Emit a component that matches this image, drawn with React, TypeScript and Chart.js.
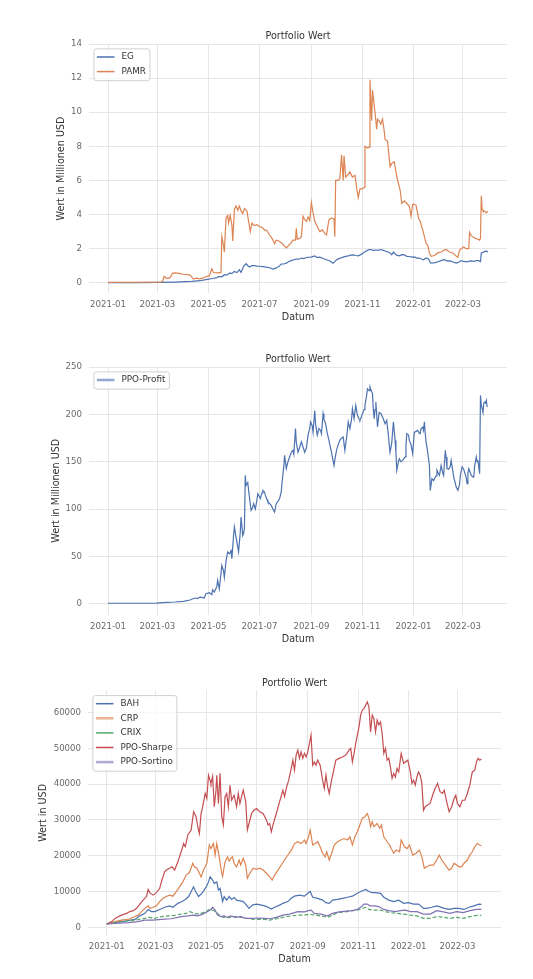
import React, { useEffect, useRef } from "react";
import { Chart, registerables } from "chart.js";
Chart.register(...registerables);

// ---------- shared axis data ----------
// x values are days since 2021-01-01
const TICK_DAYS = [0, 59, 120, 181, 243, 304, 365, 424];
const TICK_LABELS = ["2021-01", "2021-03", "2021-05", "2021-07", "2021-09", "2021-11", "2022-01", "2022-03"];
const X_MIN = -22.7;
const X_MAX = 476.7;

const TITLE = "Portfolio Wert";
const X_TITLE = "Datum";

// ---------- chart 1: EG / PAMR (Mio. USD) ----------
const Y1_TICKS = [0, 2, 4, 6, 8, 10, 12, 14];
const EG: number[][] = [
  [0,0.01],[30,0.01],[63,0.02],[80,0.04],[100,0.08],[110,0.12],[117,0.18],[125,0.25],[130,0.3],[133,0.37],
  [136,0.35],[139,0.47],[142,0.45],[145,0.57],[148,0.55],[151,0.66],[154,0.6],[157,0.76],[159,0.6],[162,0.96],
  [165,1.12],[167,1.0],[169,0.92],[172,1.0],[175,1.0],[178,0.98],[181,0.97],[185,0.95],[189,0.92],[193,0.88],
  [197,0.8],[201,0.87],[204,0.95],[207,1.1],[210,1.1],[213,1.15],[216,1.25],[219,1.3],[222,1.35],[225,1.39],
  [228,1.38],[231,1.45],[234,1.42],[237,1.48],[241,1.5],[244,1.52],[247,1.58],[250,1.48],[253,1.5],[257,1.42],
  [261,1.35],[265,1.28],[269,1.15],[272,1.3],[275,1.4],[278,1.45],[281,1.5],[284,1.55],[287,1.58],[290,1.62],
  [293,1.64],[296,1.6],[299,1.58],[302,1.65],[305,1.74],[308,1.85],[311,1.93],[314,1.95],[317,1.9],[320,1.92],
  [323,1.9],[326,1.95],[329,1.9],[332,1.85],[335,1.8],[337,1.75],[339,1.64],[341,1.8],[343,1.7],[345,1.62],
  [348,1.58],[351,1.65],[354,1.64],[357,1.55],[360,1.54],[363,1.5],[366,1.52],[369,1.45],[372,1.45],[375,1.38],
  [377,1.35],[380,1.45],[383,1.4],[385,1.2],[386,1.15],[389,1.17],[392,1.2],[395,1.25],[398,1.3],[401,1.35],
  [403,1.33],[406,1.27],[409,1.28],[412,1.22],[416,1.15],[419,1.2],[422,1.3],[425,1.25],[428,1.22],[431,1.25],
  [434,1.28],[437,1.25],[440,1.3],[443,1.3],[445,1.25],[446,1.75],[448,1.78],[450,1.84],[452,1.85],[454,1.8]
];
const PAMR: number[][] = [
  [0,0.02],[20,0.03],[40,0.03],[63,0.04],[65,0.06],[67,0.38],[70,0.25],[74,0.3],[77,0.55],[80,0.58],
  [85,0.55],[90,0.5],[95,0.48],[98,0.45],[100,0.35],[102,0.22],[105,0.27],[110,0.23],[115,0.3],[118,0.38],
  [121,0.4],[124,0.82],[126,0.6],[130,0.58],[134,0.6],[135,0.62],[136,2.7],[138,2.2],[139,1.8],[141,3.8],
  [143,3.95],[144,3.5],[146,3.95],[148,3.4],[149,2.45],[151,4.3],[153,4.5],[155,4.25],[157,4.5],[159,4.2],
  [161,4.05],[163,4.35],[166,4.2],[168,3.6],[170,3.0],[172,3.5],[175,3.35],[178,3.4],[181,3.3],[184,3.25],
  [187,3.1],[190,3.05],[193,2.8],[196,2.6],[199,2.3],[201,2.5],[204,2.45],[207,2.35],[210,2.2],[213,2.05],
  [216,2.2],[219,2.35],[221,2.5],[224,2.5],[225,3.2],[226,2.55],[229,2.6],[231,2.7],[233,3.9],[235,3.7],
  [237,3.6],[239,3.85],[241,3.65],[243,4.7],[245,4.1],[247,3.6],[250,3.3],[253,3.0],[256,3.1],[259,2.9],
  [261,2.8],[264,3.7],[267,3.8],[270,3.75],[271,2.7],[272,6.0],[275,6.0],[277,6.1],[279,7.5],[281,6.0],
  [282,7.45],[284,6.2],[286,6.3],[289,6.5],[292,6.2],[295,6.3],[297,5.6],[299,5.0],[301,5.5],[304,5.5],
  [306,5.6],[307,8.0],[310,7.9],[312,7.95],[313,11.9],[315,9.5],[316,11.3],[318,10.4],[319,10.0],[321,9.0],
  [322,9.6],[324,9.5],[326,9.3],[328,9.6],[330,8.9],[331,8.4],[334,8.3],[337,6.8],[339,7.0],[342,7.1],
  [344,6.5],[346,6.0],[349,5.45],[351,4.65],[354,4.8],[357,4.65],[360,4.5],[362,3.9],[364,4.6],[366,4.6],
  [368,4.55],[371,3.8],[373,3.6],[376,3.1],[378,2.7],[380,2.3],[382,2.2],[384,1.75],[386,1.55],[390,1.6],
  [394,1.75],[398,1.8],[401,1.9],[404,1.95],[408,1.8],[412,1.75],[415,1.6],[418,1.5],[420,1.9],[422,2.0],
  [425,2.1],[428,2.0],[431,2.0],[432,2.95],[434,2.75],[436,2.7],[439,2.6],[442,2.55],[444,2.5],[445,2.6],
  [446,5.1],[447,4.3],[448,4.2],[450,4.2],[452,4.1],[454,4.2]
];

// ---------- chart 2: PPO-Profit (Mio. USD) ----------
const Y2_TICKS = [0, 50, 100, 150, 200, 250];
const PPO_PROFIT: number[][] = [
  [0,0.5],[30,0.5],[58,0.6],[70,1.4],[80,1.8],[90,2.5],[98,3.9],[104,6],[107,5.5],[110,7],
  [113,6.5],[115,6],[117,10.6],[121,11.6],[124,9.5],[125,14.8],[127,12.3],[130,18],[131,24.6],[133,15.8],
  [136,40.5],[138,35],[139,28],[141,45],[143,54.6],[145,52.8],[147,56],[148,47.5],[150,72],[151,81],
  [153,70],[155,60],[156,55],[158,75],[159,91.5],[161,72],[162,74],[163,80],[164,135.6],[165,125],
  [167,128],[168,119.7],[170,105],[171,98.6],[173,102],[174,105.6],[176,100],[178,110],[179,116],[181,113],
  [182,111],[184,117],[185,119.7],[187,118],[188,114.4],[190,110],[191,107.4],[193,106],[195,104],[197,100],
  [199,96.8],[201,105.6],[203,108],[205,111],[207,118],[208,128.5],[210,145],[211,156.7],[213,142.6],[215,150],
  [217,155],[219,160],[221,162],[222,158],[224,185],[225,170],[227,160],[229,165],[231,171],[233,165.5],
  [235,160],[237,164.4],[239,178],[241,185],[242,192],[244,188],[245,181],[247,204],[248,190],[250,178],
  [252,185],[254,183],[255,179.6],[257,200.7],[258,195],[260,190],[262,180],[264,172.5],[265,168],[267,160],
  [268,155],[270,146],[271,152],[273,162],[275,168],[277,172.5],[279,175],[281,176],[283,162],[285,175],
  [287,192],[289,185],[291,195],[292,206],[294,195.4],[296,209.5],[298,199],[300,195],[301,193.7],[303,198],
  [304,200.7],[306,205],[307,209.5],[309,220],[310,227],[312,225],[313,228.9],[315,224],[316,221.8],[317,205],
  [318,195.4],[319,205],[320,213],[321,200],[322,186.6],[323,195],[324,202],[326,201],[327,199],[329,195],
  [331,190],[333,193.7],[335,178],[336,168],[337,160],[339,170],[341,192],[343,172.5],[344,160],[345,141],
  [347,150],[348,153],[350,150],[352,151.4],[355,155],[356,168],[357,179.6],[359,178],[360,172.5],[362,168],
  [364,158.5],[365,170],[366,181],[368,182],[370,183],[372,180],[373,179.6],[374,185],[376,186.6],[377,183],
  [378,192],[379,180],[380,171],[382,160],[384,146],[385,119.7],[387,132],[389,130],[390,132],[392,135],
  [393,141],[395,137],[396,135.6],[398,146],[400,138],[401,135.6],[403,162],[404,155],[405,142.6],[407,142],
  [409,145],[410,151.4],[412,140],[413,133.8],[415,127],[416,123.2],[418,119.7],[420,126],[421,135.6],[422,140],
  [423,144.4],[425,142],[426,139],[428,133],[429,126.8],[430,138],[431,142.6],[433,138],[434,135.6],[436,134],
  [437,133.8],[438,145],[440,155],[441,150],[442,151.4],[444,137.3],[445,220],[446,210],[448,202],[449,212],
  [450,213],[451,212],[452,214.8],[453,207.7]
];

// ---------- chart 3: strategies (USD) ----------
const Y3_TICKS = [0, 10000, 20000, 30000, 40000, 50000, 60000];
const BAH: number[][] = [
  [0,930],[10,1300],[18,1600],[26,1900],[34,2200],[40,3200],[46,3900],[50,5000],[54,4400],[58,4400],
  [64,5000],[70,5600],[76,6000],[80,5600],[86,6700],[91,7200],[95,7800],[99,8600],[103,10400],[105,11300],
  [107,10200],[111,8600],[115,9500],[119,10900],[121,11600],[123,12700],[125,14100],[128,13200],[130,12300],[133,12700],
  [135,10400],[137,10900],[140,7200],[142,8600],[145,7600],[148,8600],[151,7800],[154,8300],[157,7600],[161,7400],
  [165,7200],[169,6200],[172,5300],[176,6200],[181,6500],[187,6200],[191,6000],[195,5600],[199,5100],[203,5600],
  [209,6200],[213,6700],[219,7200],[223,8100],[227,8700],[233,9000],[239,8700],[243,9500],[246,10000],[249,8400],
  [255,8100],[261,7600],[265,6900],[269,6700],[273,7600],[279,7800],[285,8100],[291,8400],[297,8700],[303,9500],
  [309,10200],[313,10600],[317,10000],[321,9700],[325,9700],[331,9500],[335,8400],[341,7600],[347,7200],[353,7600],
  [359,6700],[365,6900],[371,6500],[377,6500],[383,5300],[387,5300],[393,5600],[399,6000],[403,5700],[408,5300],
  [414,5000],[420,5300],[426,5300],[432,5000],[438,5600],[444,6000],[450,6500],[453,6400]
];
const CRP: number[][] = [
  [0,930],[10,1600],[18,2000],[26,2200],[32,2800],[38,3400],[42,4400],[46,5300],[50,6000],[52,5300],
  [56,5600],[60,6000],[64,7200],[68,8100],[72,8600],[76,9000],[80,8700],[84,10000],[88,11300],[92,12700],
  [96,14600],[100,15300],[104,17900],[106,16900],[109,16500],[112,15100],[114,14100],[117,16000],[121,17900],[124,23000],
  [126,22000],[129,23400],[131,20200],[133,23400],[136,19700],[138,16500],[140,14200],[143,18300],[146,19700],[148,18500],
  [150,19300],[152,19700],[154,17900],[157,16900],[160,18800],[162,17400],[165,19300],[168,17400],[170,13700],[173,15100],
  [177,16500],[181,16200],[185,16500],[189,16000],[193,15100],[197,14100],[200,13200],[203,14600],[207,16000],[211,17400],
  [215,18800],[219,20200],[223,21500],[227,23400],[231,23900],[235,23400],[239,24400],[241,23400],[244,25300],[246,27200],
  [249,23000],[252,23400],[255,23900],[258,22500],[261,20700],[264,19700],[266,21100],[269,18800],[272,20700],[275,23000],
  [279,23900],[283,24400],[287,24800],[291,24400],[294,25300],[297,23000],[300,25300],[303,26700],[306,28600],[309,30500],
  [312,30900],[315,31800],[317,30500],[319,28100],[321,29500],[323,28100],[327,29000],[330,27700],[332,28600],[335,25300],
  [339,23900],[342,23000],[344,22000],[347,20700],[350,21600],[354,21100],[356,24400],[360,22500],[363,22000],[366,23000],
  [370,20200],[374,20700],[378,21600],[381,19700],[384,16500],[387,16900],[391,17400],[395,17400],[399,18800],[402,20200],
  [405,18800],[408,17900],[411,16900],[414,16000],[417,16500],[420,17900],[423,17400],[426,16900],[429,16900],[432,17900],
  [436,18800],[439,20200],[442,21100],[445,22500],[448,23400],[451,23000],[453,22800]
];
const CRIX: number[][] = [
  [0,930],[10,1400],[22,1700],[34,2000],[46,2500],[50,2800],[58,2500],[66,3000],[74,3200],[82,3350],
  [90,3700],[96,3900],[100,4400],[104,4100],[108,3700],[114,3900],[120,4400],[124,5000],[127,4800],[130,4650],
  [134,3900],[137,3200],[141,2800],[147,2700],[155,3000],[163,2800],[169,2500],[175,2300],[183,2200],[191,2200],
  [197,2000],[203,2300],[211,2700],[217,3000],[223,3200],[231,3400],[239,3400],[245,3700],[251,3400],[259,3200],
  [267,2800],[271,3200],[279,4100],[287,4300],[295,4550],[303,4800],[309,5300],[313,5600],[317,5000],[323,4800],
  [331,4800],[337,4400],[343,4100],[351,3900],[359,3700],[367,3400],[375,3200],[383,2500],[391,2500],[399,3000],
  [407,2800],[415,2500],[423,2800],[431,2500],[439,3000],[447,3350],[453,3300]
];
const PPO_SHARPE: number[][] = [
  [0,930],[6,1600],[10,2500],[14,3000],[18,3400],[24,3900],[28,4400],[32,4650],[36,5300],[40,6500],
  [44,7600],[48,8600],[50,10600],[52,9700],[56,9000],[60,9700],[64,10900],[66,12700],[70,15500],[72,16000],
  [76,16500],[79,16900],[82,16000],[86,18300],[90,21100],[93,23400],[95,22500],[98,25800],[102,27200],[105,32300],
  [108,30900],[110,28100],[112,26200],[114,31800],[116,33700],[119,37400],[121,36000],[123,42500],[125,41000],[126,40200],
  [128,42200],[130,33700],[132,38000],[133,42500],[135,34600],[137,43000],[139,30900],[141,28600],[143,36500],[145,37400],
  [147,33700],[149,39700],[151,35500],[154,36900],[157,33700],[159,37400],[161,34600],[163,36500],[165,38300],[168,35100],
  [170,27200],[172,29000],[175,31800],[178,32700],[181,33200],[185,32300],[189,31800],[193,30000],[195,28600],[197,29000],
  [199,26700],[201,28600],[205,31800],[209,35100],[213,38300],[215,36500],[217,38800],[220,41100],[223,44400],[225,46700],
  [227,43900],[229,48100],[231,49500],[233,47200],[235,49000],[237,47200],[239,48600],[241,47600],[243,49000],[245,51300],
  [247,53700],[249,45300],[251,46200],[253,45300],[255,46700],[258,45300],[261,41100],[263,38800],[265,42500],[267,39300],
  [269,37400],[271,40200],[274,43400],[277,46700],[281,47200],[285,47600],[289,48100],[293,49500],[295,50000],[297,46200],
  [299,48600],[301,51300],[303,53700],[305,56000],[307,59300],[309,60700],[311,61100],[313,62000],[315,63000],[317,61600],
  [319,54600],[321,59300],[323,58300],[325,54600],[327,57900],[329,56500],[331,57400],[333,54100],[335,48600],[337,50000],
  [339,46700],[341,47200],[343,44800],[345,41600],[347,43000],[349,42000],[351,44400],[353,43400],[356,48600],[359,45800],
  [361,46200],[364,46700],[367,43400],[369,40200],[371,41100],[373,39700],[375,42000],[377,43400],[379,42500],[381,40200],
  [383,32700],[385,33700],[388,34200],[391,34600],[394,36900],[397,38800],[400,40200],[403,37900],[406,37400],[408,38300],
  [411,35100],[414,32300],[417,33700],[420,36000],[422,36900],[424,34600],[427,33700],[430,35500],[433,35500],[436,37400],
  [439,39700],[442,43400],[445,43900],[447,46200],[449,47200],[451,46700],[453,47000]
];
const PPO_SORTINO: number[][] = [
  [0,930],[10,1100],[26,1300],[38,1600],[46,2000],[56,2000],[66,2200],[78,2400],[90,3000],[98,3200],
  [104,3400],[110,3200],[116,3700],[122,4400],[126,5000],[128,5600],[131,4800],[134,3400],[138,3000],[142,3200],
  [146,2800],[150,3200],[156,2800],[162,3000],[168,2500],[175,2500],[183,2600],[191,2500],[197,2400],[205,2800],
  [213,3400],[221,3700],[227,4100],[231,4400],[239,4300],[244,4650],[247,4800],[251,3900],[259,3700],[267,3200],
  [273,3900],[281,4300],[289,4500],[297,4650],[303,5000],[308,5800],[311,6500],[315,6500],[318,6000],[323,6000],
  [329,5800],[335,5000],[341,4650],[349,4400],[355,4650],[361,4800],[367,4400],[375,4400],[383,3700],[391,3700],
  [399,4650],[407,4300],[415,3900],[423,4400],[431,4100],[439,4650],[447,5000],[453,5000]
];

// ---------- style ----------
const FONT = "'DejaVu Sans', 'Liberation Sans', sans-serif";
const BLUE = "#4C72B0";
const ORANGE = "#DD8452";
const GREEN = "#55A868";
const RED = "#C44E52";
const PURPLE = "#8172B3";
const GRID = "#e6e6e6";
const TICK_COLOR = "#6a6a6a";
const LABEL_COLOR = "#333333";
const W = 533;

type LegendItem = { label: string; color: string; width: number; alpha: number };

const decorPlugin = {
  id: "decor",
  afterDraw(chart: any, _args: any, o: any) {
    const { ctx, chartArea: a } = chart;
    const cx = (a.left + a.right) / 2;
    ctx.save();
    ctx.fillStyle = LABEL_COLOR;
    ctx.font = `9.6px ${FONT}`;
    ctx.textAlign = "center";
    ctx.textBaseline = "alphabetic";
    ctx.fillText(o.title, cx, a.top - 5);
    ctx.textBaseline = "middle";
    ctx.fillText(o.xTitle, cx, a.bottom + 24.5);
    ctx.save();
    ctx.translate(o.yTitleX, (a.top + a.bottom) / 2);
    ctx.rotate(-Math.PI / 2);
    ctx.fillText(o.yTitle, 0, 0);
    ctx.restore();

    // legend box (upper left, inside axes)
    const items: LegendItem[] = o.legend;
    const fs = 8.8;
    ctx.font = `${fs}px ${FONT}`;
    let maxW = 0;
    items.forEach((it) => { maxW = Math.max(maxW, ctx.measureText(it.label).width); });
    const bx = a.left + 4.4;
    const by = a.top + 4.4;
    const bw = 3.5 + 17.6 + 7 + maxW + 3.5;
    const bh = 7 + items.length * 10.2 + (items.length - 1) * 4.4;
    ctx.beginPath();
    ctx.roundRect(bx + 0.5, by + 0.5, bw, bh, 2.5);
    ctx.fillStyle = "rgba(255,255,255,0.8)";
    ctx.fill();
    ctx.strokeStyle = "#d0d0d0";
    ctx.lineWidth = 1;
    ctx.stroke();
    items.forEach((it, i) => {
      const ry = by + 3.5 + 5.1 + i * 14.6;
      ctx.globalAlpha = it.alpha;
      ctx.strokeStyle = it.color;
      ctx.lineWidth = it.width;
      ctx.beginPath();
      ctx.moveTo(bx + 3.5, ry);
      ctx.lineTo(bx + 21.1, ry);
      ctx.stroke();
      ctx.globalAlpha = 1;
      ctx.fillStyle = LABEL_COLOR;
      ctx.textAlign = "left";
      ctx.textBaseline = "middle";
      ctx.fillText(it.label, bx + 28.1, ry);
    });
    ctx.restore();
  },
};

type Series = { label: string; data: number[][]; color: string; dash?: number[] };

type Spec = {
  height: number;
  area: { left: number; right: number; top: number; bottom: number };
  yMin: number;
  yMax: number;
  yTicks: number[];
  yTitle: string;
  yTitleX: number;
  series: Series[];
  legend: LegendItem[];
};

function buildConfig(s: Spec): any {
  const n = s.series.length;
  return {
    type: "line",
    data: {
      datasets: s.series.map((se, i) => ({
        label: se.label,
        data: se.data.map(([x, y]) => ({ x, y })),
        borderColor: se.color,
        borderWidth: 1.2,
        borderDash: se.dash || [],
        pointRadius: 0,
        tension: 0,
        fill: false,
        order: n - i,
      })),
    },
    options: {
      responsive: false,
      animation: false,
      events: [],
      layout: { padding: { left: 0, right: W - s.area.right, top: s.area.top, bottom: 0 } },
      plugins: {
        legend: { display: false },
        tooltip: { enabled: false },
        decor: { title: TITLE, xTitle: X_TITLE, yTitle: s.yTitle, yTitleX: s.yTitleX, legend: s.legend },
      },
      scales: {
        x: {
          type: "linear",
          min: X_MIN,
          max: X_MAX,
          afterBuildTicks: (sc: any) => { sc.ticks = TICK_DAYS.map((v) => ({ value: v })); },
          afterFit: (sc: any) => { sc.height = s.height - s.area.bottom; },
          ticks: {
            autoSkip: false,
            maxRotation: 0,
            padding: 7,
            color: TICK_COLOR,
            font: { family: FONT, size: 8.6 },
            callback: (v: number) => {
              const k = TICK_DAYS.indexOf(v);
              return k >= 0 ? TICK_LABELS[k] : "";
            },
          },
          grid: { color: GRID, lineWidth: 1, drawTicks: false },
          border: { display: false },
        },
        y: {
          type: "linear",
          min: s.yMin,
          max: s.yMax,
          afterBuildTicks: (sc: any) => { sc.ticks = s.yTicks.map((v) => ({ value: v })); },
          afterFit: (sc: any) => { sc.width = s.area.left; },
          ticks: {
            padding: 7,
            color: TICK_COLOR,
            font: { family: FONT, size: 8.6 },
            callback: (v: number) => String(v),
          },
          grid: { color: GRID, lineWidth: 1, drawTicks: false },
          border: { display: false },
        },
      },
    },
    plugins: [decorPlugin],
  };
}

const SPECS: { top: number; spec: Spec }[] = [
  {
    top: 0,
    spec: {
      height: 330,
      area: { left: 89, right: 507, top: 44, bottom: 293 },
      yMin: -0.6,
      yMax: 14,
      yTicks: Y1_TICKS,
      yTitle: "Wert in Millionen USD",
      yTitleX: 61,
      series: [
        { label: "EG", data: EG, color: BLUE },
        { label: "PAMR", data: PAMR, color: ORANGE },
      ],
      legend: [
        { label: "EG", color: BLUE, width: 1.5, alpha: 1 },
        { label: "PAMR", color: ORANGE, width: 1.5, alpha: 1 },
      ],
    },
  },
  {
    top: 330,
    spec: {
      height: 330,
      area: { left: 89, right: 507, top: 37, bottom: 284.5 },
      yMin: -11.4,
      yMax: 250,
      yTicks: Y2_TICKS,
      yTitle: "Wert in Millionen USD",
      yTitleX: 56,
      series: [{ label: "PPO-Profit", data: PPO_PROFIT, color: BLUE }],
      legend: [{ label: "PPO-Profit", color: BLUE, width: 2.6, alpha: 0.6 }],
    },
  },
  {
    top: 660,
    spec: {
      height: 319,
      area: { left: 88, right: 501, top: 30.7, bottom: 275.1 },
      yMin: -2170,
      yMax: 66100,
      yTicks: Y3_TICKS,
      yTitle: "Wert in USD",
      yTitleX: 43,
      series: [
        { label: "BAH", data: BAH, color: BLUE },
        { label: "CRP", data: CRP, color: ORANGE },
        { label: "CRIX", data: CRIX, color: GREEN, dash: [4, 2] },
        { label: "PPO-Sharpe", data: PPO_SHARPE, color: RED },
        { label: "PPO-Sortino", data: PPO_SORTINO, color: PURPLE },
      ],
      legend: [
        { label: "BAH", color: BLUE, width: 1.5, alpha: 1 },
        { label: "CRP", color: ORANGE, width: 2.6, alpha: 0.6 },
        { label: "CRIX", color: GREEN, width: 1.5, alpha: 1 },
        { label: "PPO-Sharpe", color: RED, width: 1.5, alpha: 1 },
        { label: "PPO-Sortino", color: PURPLE, width: 2.6, alpha: 0.6 },
      ],
    },
  },
];

function ChartPanel({ top, spec }: { top: number; spec: Spec }) {
  const ref = useRef<HTMLCanvasElement | null>(null);
  useEffect(() => {
    if (!ref.current) return;
    const chart = new Chart(ref.current, buildConfig(spec));
    return () => chart.destroy();
  }, [spec]);
  return (
    <canvas
      ref={ref}
      width={W}
      height={spec.height}
      style={{ position: "absolute", left: 0, top, width: W, height: spec.height, display: "block" }}
    />
  );
}

export default function App() {
  return (
    <div style={{ position: "absolute", left: 0, top: 0, width: W, height: 979, background: "#ffffff" }}>
      {SPECS.map((p, i) => (
        <ChartPanel key={i} top={p.top} spec={p.spec} />
      ))}
    </div>
  );
}
